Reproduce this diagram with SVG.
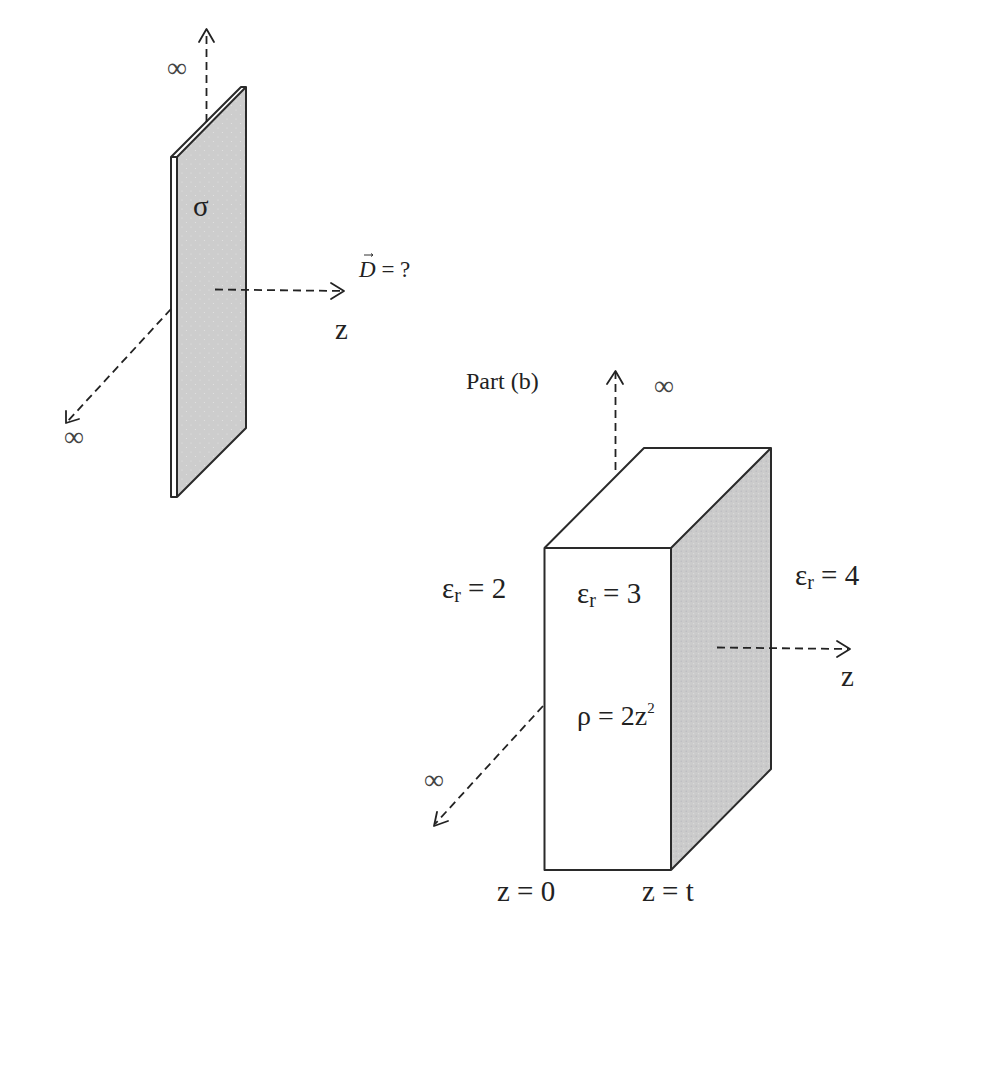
<svg xmlns="http://www.w3.org/2000/svg" width="1006" height="1072" viewBox="0 0 1006 1072">
<style>
text{font-family:"Liberation Serif","Times New Roman",serif;fill:#222}
.o{stroke:#2a2a2a;stroke-width:2;stroke-linejoin:round;fill:none}
.d{stroke:#222;stroke-width:1.8;stroke-dasharray:8 5;fill:none}
.h{stroke:#222;stroke-width:1.8;fill:none;stroke-linecap:round;stroke-linejoin:round}
.big{font-size:29px}
.small{font-size:23px}
.inf{font-size:28px;fill:#444}
</style>
<defs>
<pattern id="dots" width="9" height="9" patternUnits="userSpaceOnUse">
<rect width="9" height="9" fill="#cdcdcd"/>
<circle cx="2" cy="2" r=".6" fill="#e4e4e4"/>
<circle cx="6.500" cy="6.500" r=".6" fill="#e4e4e4"/>
</pattern>
<pattern id="dots2" width="5" height="5" patternUnits="userSpaceOnUse">
<rect width="5" height="5" fill="#cbcbcb"/>
<circle cx="1.200" cy="1.200" r=".6" fill="#b4b4bb"/>
<circle cx="3.700" cy="3.700" r=".6" fill="#dedede"/>
</pattern>
</defs>
<rect width="1006" height="1072" fill="#fff"/>
<g id="plate">
<path d="M177 157L246 87V428L177 497Z" fill="url(#dots)"/>
<path class="o" d="M171 157H177V497H171ZM171 157L241 87H246L177 157M177 497L246 428V87"/>
</g>
<g id="box">
<path d="M671 548L771 448V769L671 870Z" fill="url(#dots2)"/>
<path class="o" d="M544.500 548H671V870H544.500ZM544.500 548L644 448H771L671 548M771 448V769L671 870"/>
</g>
<g id="connectors">
<path class="d" d="M206.500 122V30"/><path class="h" d="M199 42L206.500 29L214 42"/>
<path class="d" d="M215 289.500L343 291"/><path class="h" d="M331 283L344 291L331 299"/>
<path class="d" d="M171 309L67 422"/><path class="h" d="M66 411L66 423L79 419"/>
<path class="d" d="M615.500 470V372"/><path class="h" d="M607 384L615.500 371L623 384"/>
<path class="d" d="M717 647.500L848 649"/><path class="h" d="M837 641L850 649L837 657"/>
<path class="d" d="M543 706L435 824"/><path class="h" d="M437 812L434 826L448 821"/>
</g>
<g id="labels">
<text class="inf" x="177" y="77" text-anchor="middle">∞</text>
<text class="inf" x="74" y="446" text-anchor="middle">∞</text>
<text class="inf" x="664" y="395" text-anchor="middle">∞</text>
<text class="inf" x="434" y="789" text-anchor="middle">∞</text>
<text class="big" x="193" y="216" font-size="30">σ</text>
<text class="small" x="359" y="277"><tspan font-style="italic">D</tspan> = ?</text>
<path stroke="#333" stroke-width="1" fill="none" d="M364 255H373M371 253.500L373 255L371 256.500"/>
<text class="big" x="335" y="339">z</text>
<text class="small" x="466" y="389" style="font-size:24px">Part (b)</text>
<text class="big" x="442" y="598">ε<tspan font-size="20" dy="4">r</tspan><tspan dy="-4"> = 2</tspan></text>
<text class="big" x="577" y="603">ε<tspan font-size="20" dy="4">r</tspan><tspan dy="-4"> = 3</tspan></text>
<text class="big" x="795" y="585">ε<tspan font-size="20" dy="4">r</tspan><tspan dy="-4"> = 4</tspan></text>
<text class="big" x="841" y="686">z</text>
<text class="big" x="577" y="725" style="font-size:28px">ρ = 2z<tspan font-size="15" dy="-12">2</tspan></text>
<text class="big" x="497" y="901">z = 0</text>
<text class="big" x="642" y="901">z = t</text>
</g>
</svg>
